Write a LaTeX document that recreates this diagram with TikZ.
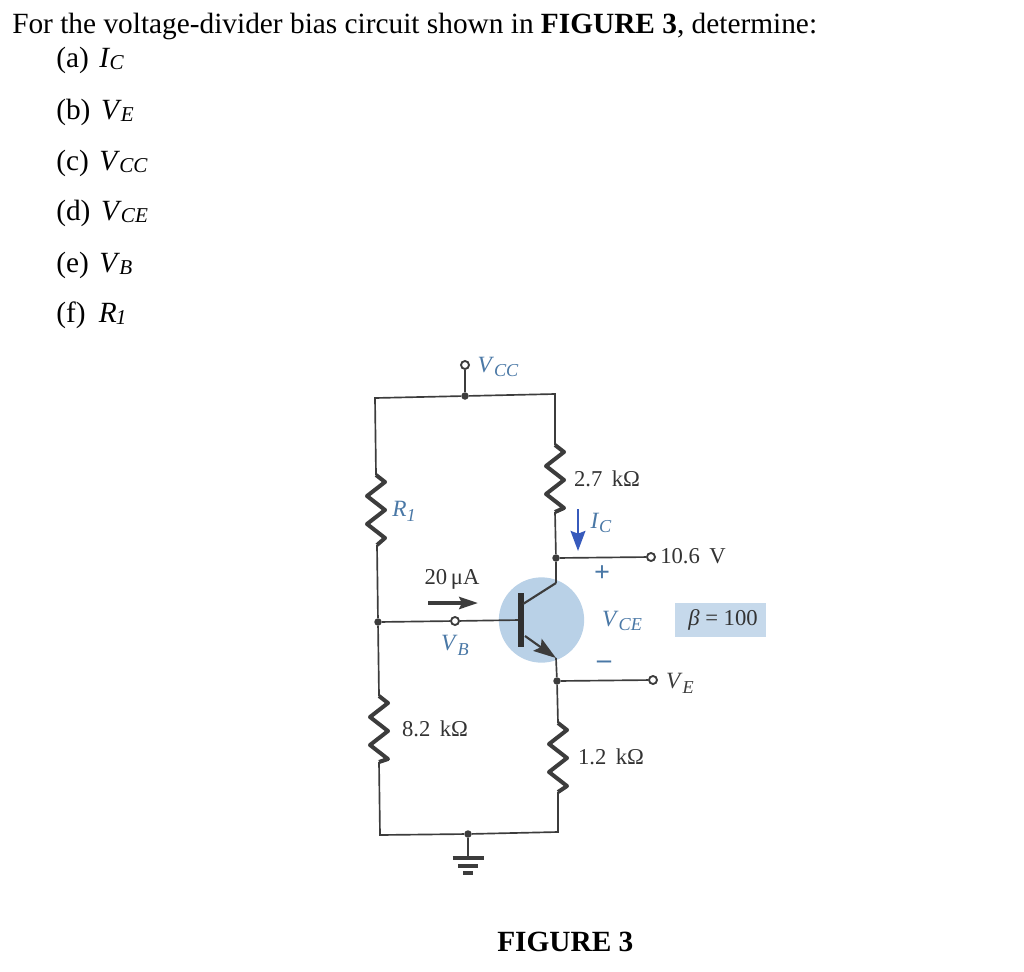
\documentclass[tikz,border=0pt]{standalone}
\usepackage{graphicx}
\usepackage{fontspec}
\setmainfont{Liberation Serif}
\usetikzlibrary{arrows.meta}
\definecolor{wire}{HTML}{3C3C3C}
\definecolor{labelblue}{HTML}{4A78A6}
\definecolor{bjtblue}{HTML}{B9D1E7}
\definecolor{boxblue}{HTML}{C6D9EB}
\newcommand{\symb}[2]{\textit{#1}\raisebox{-0.2ex}{\kern-0.03em\scalebox{0.72}{\textit{#2}}}}
\newcommand{\csym}[2]{\textit{#1}\raisebox{-0.45ex}{\scalebox{0.78}{\textit{#2}}}}
\newcommand{\zig}[1]{-- ++(9,7) -- ++(-18,14) -- ++(18,14) -- ++(-18,14) -- ++(18,14) -- (#1)}
\tikzset{
  wire/.style={draw=wire,line width=1.25pt},
  res/.style={draw=wire,line width=3pt,line join=round},
  dot/.style={circle,fill=wire,inner sep=0pt,minimum size=7.5pt*0.75},
  term/.style={circle,draw=wire,fill=white,line width=1.4pt,inner sep=0pt,minimum size=8pt*0.75},
  txt/.style={anchor=base west,inner sep=0pt,font=\fontsize{22}{26}\selectfont},
  val/.style={text=black!80,inner sep=0pt,font=\fontsize{17}{18}\selectfont},
  sym/.style={text=labelblue,inner sep=0pt,font=\fontsize{17.5}{20}\selectfont}
}
\begin{document}
\begin{tikzpicture}[x=0.75pt,y=-0.75pt]
\useasboundingbox (0,0) rectangle (1024,971);

%Question
\node (head) at (12,33) [txt] {For the voltage-divider bias circuit shown in \textbf{FIGURE 3}, determine:};
\node (qa) at (56,67) [txt] {(a)\kern8pt\symb{I}{C}};
\node (qb) at (56,119) [txt] {(b)\kern8pt\symb{V}{E}};
\node (qc) at (56,170) [txt] {(c)\kern8pt\symb{V}{CC}};
\node (qd) at (56,220) [txt] {(d)\kern8pt\symb{V}{CE}};
\node (qe) at (56,272) [txt] {(e)\kern8pt\symb{V}{B}};
\node (qf) at (56,322) [txt] {(f)\kern10pt\symb{R}{1}};
\node (figname) at (497,951) [txt,font=\fontsize{22}{26}\selectfont\bfseries] {FIGURE 3};

%Transistor
\node (bjt) at (541.5,620) [circle,fill=bjtblue,inner sep=0pt,minimum size=64pt] {};
\node (beta) at (720.5,620) [fill=boxblue,minimum width=68pt,minimum height=25.5pt,inner sep=0pt] {};

%Corners and resistor ends
\coordinate (tl) at (375,398);
\coordinate (tr) at (555,394);
\coordinate (bl) at (380,835);
\coordinate (br) at (558,832);
\coordinate (r1a) at (376,475);
\coordinate (r1b) at (377,545);
\coordinate (r2a) at (379,696);
\coordinate (r2b) at (379,762);
\coordinate (rca) at (555,445);
\coordinate (rcb) at (555,512);
\coordinate (rea) at (558,723);
\coordinate (reb) at (558,792);
\coordinate (bar1) at (521,593);
\coordinate (bar2) at (521,647);
\coordinate (cin) at (523,604);
\coordinate (cout) at (556,583);
\coordinate (ein) at (525,636);
\coordinate (eout) at (556,658);
\coordinate (barb) at (520,620);
\coordinate (gnd1) at (468,858);

%Junctions and terminals
\node (jt) at (465,396) [dot] {};
\node (jl) at (378,622) [dot] {};
\node (jc) at (556,558) [dot] {};
\node (je) at (557,681) [dot] {};
\node (jb) at (468,834) [dot] {};
\node (tcc) at (465,365) [term] {};
\node (tb) at (455,621) [term] {};
\node (tc) at (651,557) [term] {};
\node (te) at (653,680) [term] {};

%Wires
\draw[wire] (tcc) -- (jt);
\draw[wire] (r1a) -- (tl) -- (jt) -- (tr) -- (rca);
\draw[wire] (r1b) -- (jl) -- (r2a);
\draw[wire] (r2b) -- (bl) -- (jb) -- (br) -- (reb);
\draw[wire] (jl) -- (tb) -- (barb);
\draw[wire] (rcb) -- (jc) -- (cout);
\draw[wire] (eout) -- (je) -- (rea);
\draw[wire] (jc) -- (tc);
\draw[wire] (je) -- (te);
\draw[wire] (jb) -- (gnd1);

%Resistors
\draw[res] (r1a) \zig{r1b};
\draw[res] (r2a) \zig{r2b};
\draw[res] (rca) \zig{rcb};
\draw[res] (rea) \zig{reb};

%Transistor leads
\draw[draw=wire!80!black,line width=4.4pt] (bar1) -- (bar2);
\draw[wire,line width=1.6pt] (cin) -- (cout);
\draw[wire,line width=1.6pt,-{Stealth[length=17pt,width=11pt,inset=3pt]}] (ein) -- (eout);

%Ground
\coordinate (gnd2) at (468,866);
\coordinate (gnd3) at (468,873);
\draw[wire,line width=3pt] ([xshift=-15.5*0.75pt]gnd1) -- ([xshift=15.5*0.75pt]gnd1);
\draw[wire,line width=3pt] ([xshift=-10*0.75pt]gnd2) -- ([xshift=10*0.75pt]gnd2);
\draw[wire,line width=3.5pt] ([xshift=-5*0.75pt]gnd3) -- ([xshift=5*0.75pt]gnd3);

%Current arrows
\coordinate (iba) at (428,603);
\coordinate (ibb) at (478,603);
\coordinate (ica) at (578,509);
\coordinate (icb) at (578,551);
\draw[draw=wire,line width=2.8pt,-{Stealth[length=14pt,width=9pt,inset=2pt]}] (iba) -- (ibb);
\draw[draw=labelblue!75!blue,line width=2pt,-{Stealth[length=15pt,width=11pt,inset=2pt]}] (ica) -- (icb);

%Labels
\node (lvcc) at (498,367) [sym] {\csym{V}{CC}};
\node (lr1) at (404,511) [sym] {\csym{R}{1}};
\node (lrc) at (607,479) [val] {2.7\ \,kΩ};
\node (lic) at (601,523) [sym] {\csym{I}{C}};
\node (lvc) at (693,556) [val] {10.6\ \,V};
\node (lib) at (452,579) [val] {20\,μA};
\node (lvb) at (455,645) [sym] {\csym{V}{B}};
\node (lp) at (602,574) [sym,font=\fontsize{21}{22}\selectfont\bfseries] {+};
\node (lm) at (604,665) [sym,font=\fontsize{21}{22}\selectfont\bfseries] {–};
\node (lvce) at (622,621) [sym] {\csym{V}{CE}};
\node (lbeta) at (723,620) [val] {\textit{β} = 100};
\node (lve) at (680,683) [sym,text=wire] {\csym{V}{E}};
\node (lr2) at (435,729) [val] {8.2\ \,kΩ};
\node (lre) at (611,757) [val] {1.2\ \,kΩ};

\end{tikzpicture}
\end{document}
